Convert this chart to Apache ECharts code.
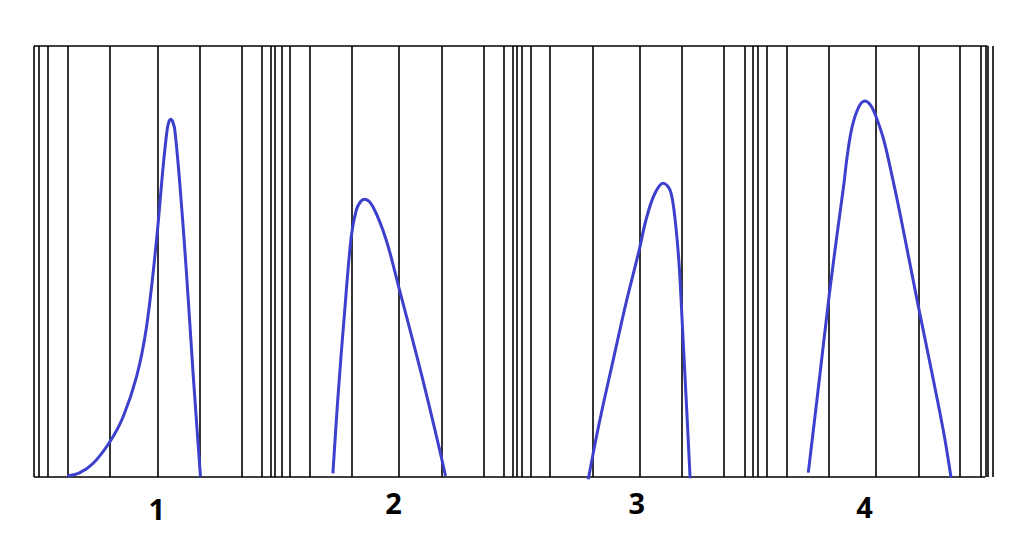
<!DOCTYPE html>
<html>
<head>
<meta charset="utf-8">
<script src="https://cdn.jsdelivr.net/npm/echarts@6/dist/echarts.min.js"></script>
<style>html,body{margin:0;padding:0;background:#fff}#c{width:1024px;height:553px}</style>
</head>
<body>
<div id="c"></div>
<script>
// Category labels and their anchor positions (axis units)
var categories = ['1', '2', '3', '4'];
var labelX = [56.4, 154.5, 255.4, 349.8];
var labelY = [-7.4, -6.0, -6.0, -6.8];

// Vertical grid line positions (axis units, repeating pattern per panel)
var gridLines = [
  5.47, 7.54, 11.14, 19.67, 36.94, 56.69, 74.20, 91.47, 100.0,
  103.6, 105.3, 108.2, 111.5, 119.9, 137.1, 156.9, 174.5, 191.8, 200.2,
  203.8, 205.6, 207.7, 211.3, 219.5, 237.0, 256.5, 274.2, 291.6, 300.0,
  303.6, 305.4, 309.1, 317.6, 334.8, 354.4, 372.2, 389.4, 397.9, 400.2, 401.0, 403.1
];
var frameLeft = 5.47, frameRightTop = 400.8, frameRightBottom = 399.9;

// Curves, one per panel: [x, y]
var curve1 = [[19.25,0.23],[24.51,1.0],[30.02,3.18],[36.94,8.19],[42.44,13.99],[47.99,23.27],[52.13,34.87],[56.27,54.99],[59.01,72.0],[60.66,80.51],[61.5,82.6],[62.19,83.0],[63.0,82.4],[63.85,80.51],[65.92,68.14],[68.70,47.26],[71.43,24.06],[73.50,7.82],[74.49,0.07]];
var curve2 = [[129.4,0.86],[131.5,18.63],[134.2,37.98],[137.0,55.75],[139.1,61.95],[140.9,63.92],[142.5,64.43],[146.0,62.71],[151.5,54.99],[157.0,43.39],[163.9,28.70],[169.4,16.31],[174.3,4.71],[176.1,0.23]];
var curve3 = [[235.3,-0.53],[239.8,12.46],[245.3,26.38],[250.9,40.30],[256.4,52.67],[259.2,59.63],[262.6,65.43],[266.3,68.14],[268.8,66.98],[270.2,64.27],[271.6,58.07],[273.0,48.79],[274.6,31.79],[276.1,15.55],[277.5,-0.30]];
var curve4 = [[326.5,1.0],[330.9,21.74],[335.1,41.83],[338.4,56.15],[341.3,68.14],[342.6,74.32],[344.7,81.28],[347.5,85.92],[349.9,87.24],[352.3,86.31],[354.6,83.60],[357.8,78.19],[361.3,69.68],[364.8,60.39],[371.6,41.07],[377.8,24.06],[382.7,10.14],[385.7,-0.16]];

var chart = echarts.init(document.getElementById('c'), null, {renderer: 'svg'});

var markData = gridLines.map(function (v) { return {xAxis: v}; });
markData.push([{coord: [frameLeft, 100]}, {coord: [frameRightTop, 100]}]);
markData.push([{coord: [frameLeft, 0]}, {coord: [frameRightBottom, 0]}]);

function curveSeries(d) {
  return {
    type: 'line', data: d, smooth: 0.35, showSymbol: false, symbol: 'none', clip: false,
    lineStyle: {color: '#3c40cc', width: 3}, silent: true, z: 5
  };
}

chart.setOption({
  animation: false,
  backgroundColor: '#ffffff',
  grid: {left: 34, right: 30, top: 46, bottom: 76, containLabel: false},
  xAxis: {type: 'value', min: 5.47, max: 403.5, show: false},
  yAxis: {type: 'value', min: 0, max: 100, show: false},
  series: [
    {
      type: 'line', data: [], silent: true,
      markLine: {
        silent: true, symbol: ['none', 'none'], animation: false,
        label: {show: false},
        lineStyle: {color: '#000', width: 1.6, type: 'solid'},
        emphasis: {disabled: true},
        data: markData
      }
    },
    curveSeries(curve1), curveSeries(curve2), curveSeries(curve3), curveSeries(curve4),
    {
      type: 'scatter', symbolSize: 0, clip: false, silent: true,
      itemStyle: {opacity: 1},
      data: categories.map(function (c, i) { return {value: [labelX[i], labelY[i]], name: c}; }),
      label: {
        show: true, position: 'inside', formatter: '{b}', opacity: 1,
        fontFamily: '"Open Sans", "DejaVu Sans", sans-serif', fontWeight: 'bold', fontSize: 29, color: '#000'
      }
    }
  ]
});
</script>
</body>
</html>
